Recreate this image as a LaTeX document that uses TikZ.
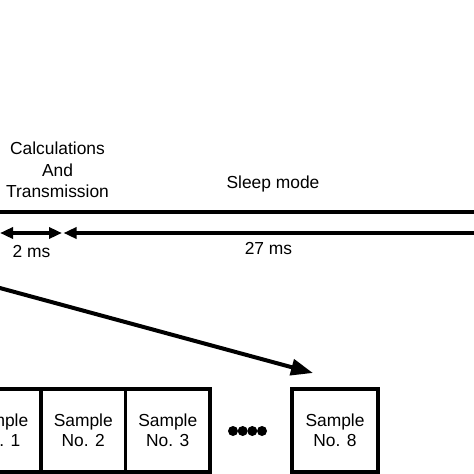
\documentclass[tikz,border=0pt]{standalone}
\usepackage{fontspec}
\setmainfont{Liberation Sans}
\usetikzlibrary{arrows.meta}
\tikzset{
  lbl/.style={inner sep=0pt, align=center, font=\fontsize{17.4}{21.5}\selectfont},
  samplebox/.style={draw, line width=3.5pt, minimum width=84.5pt, minimum height=83pt, inner sep=0pt, align=center, font=\fontsize{17.4}{20}\selectfont},
  thickline/.style={line width=4pt},
  smalltip/.style={-{Triangle[length=13pt,width=11pt]}},
  bothtip/.style={{Triangle[length=13pt,width=11pt]}-{Triangle[length=13pt,width=11pt]}},
  bigtip/.style={-{Triangle[length=22pt,width=16pt]}, line width=4pt},
}
\begin{document}
\begin{tikzpicture}[x=1pt,y=-1pt]
\useasboundingbox (0,0) rectangle (474,474);
\clip (0,0) rectangle (474,474);
% labels
\node[lbl] (calc) at (57.5,170) {Calculations\\And\\Transmission};
\node[lbl] (sleep) at (273,183.5) {Sleep mode};
\node[lbl] (two) at (31.5,252) {2 ms};
\node[lbl] (tseven) at (268.5,248.5) {27 ms};
% timeline
\coordinate (tl1) at (-10,212);
\coordinate (tl2) at (484,212);
\draw[thickline] (tl1) -- (tl2);
\coordinate (a1) at (0,233);
\coordinate (a2) at (62,233);
\coordinate (b1) at (63.5,233);
\coordinate (b2) at (484,233);
\draw[thickline, bothtip] (a1) -- (a2);
\draw[thickline, smalltip] (b2) -- (b1);
% sample boxes
\node[samplebox] (s1) at (-1.25,430.5) {Sample\\No. 1};
\node[samplebox] (s2) at (83.25,430.5) {Sample\\No. 2};
\node[samplebox] (s3) at (167.75,430.5) {Sample\\No. 3};
\node[samplebox, minimum width=86pt] (s8) at (335,430.5) {Sample\\No. 8};
% dots
\foreach \i/\x in {1/233,2/242.7,3/252.3,4/262}{
  \fill (\x,431) circle (5pt);
}
% long arrow
\coordinate (la) at (-20,282.6);
\coordinate (lb) at (313,373);
\draw[bigtip] (la) -- (lb);
\end{tikzpicture}
\end{document}
